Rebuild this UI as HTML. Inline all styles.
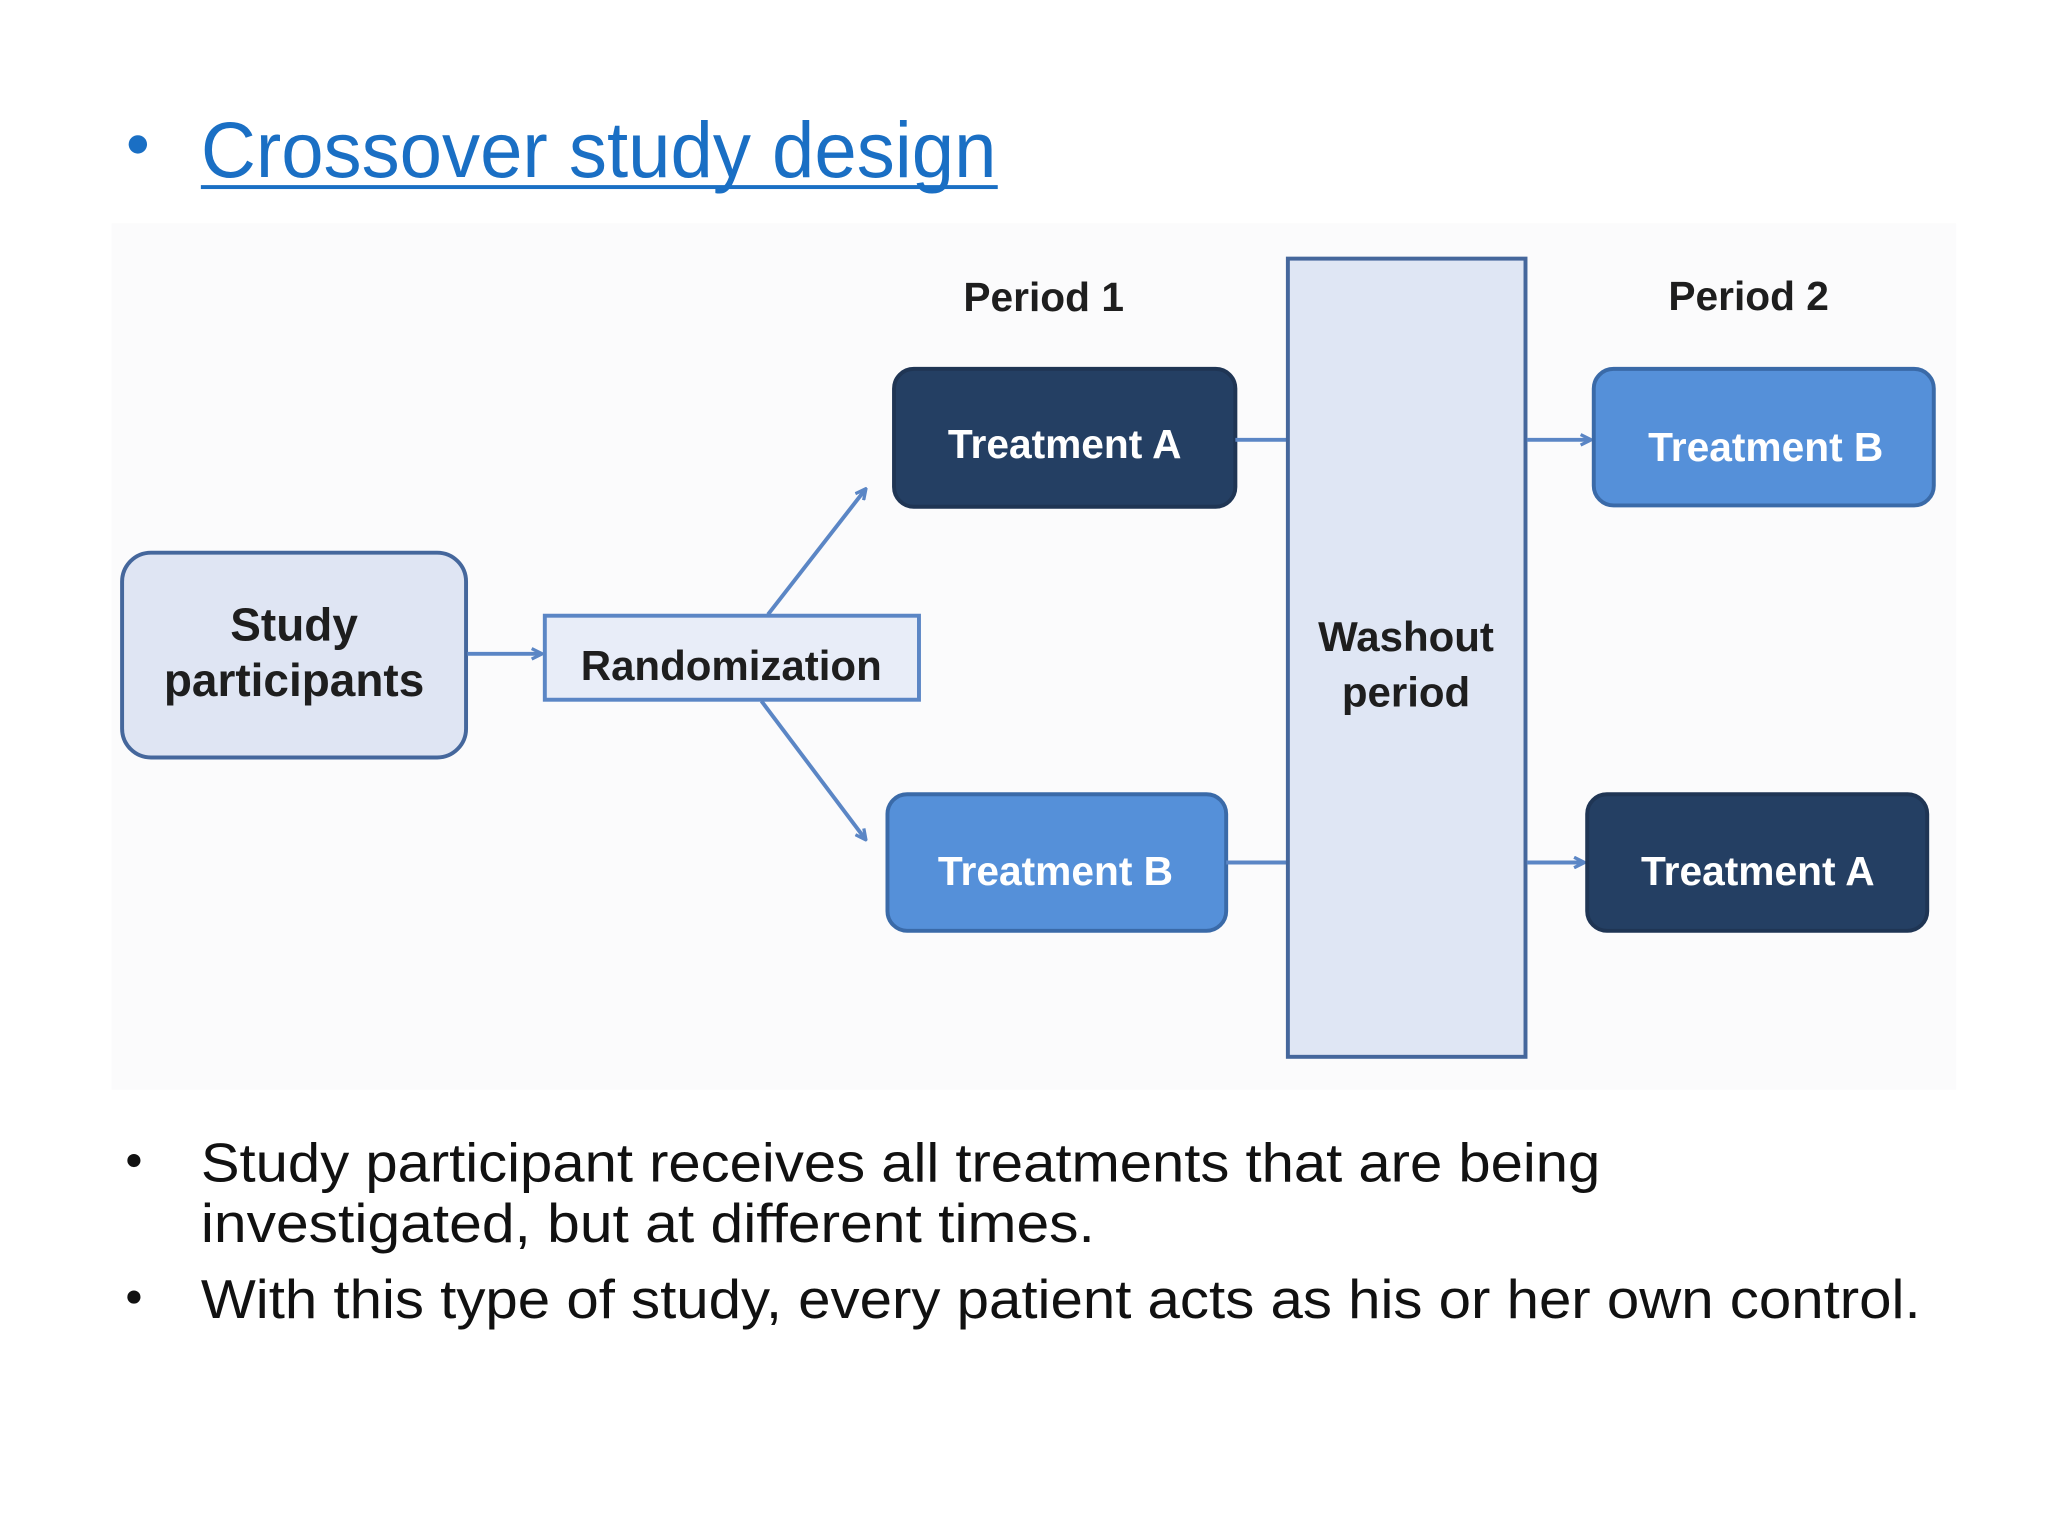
<!DOCTYPE html>
<html><head><meta charset="utf-8"><style>
html,body{margin:0;padding:0;background:#fff;}
svg{display:block;}
</style></head><body>
<svg width="2048" height="1536" viewBox="0 0 1560 1170" xmlns="http://www.w3.org/2000/svg">
<defs>
<marker id="ah" markerWidth="10" markerHeight="10" refX="8" refY="5" orient="auto" markerUnits="userSpaceOnUse">
<path d="M1,1 L9,5 L1,9" fill="none" stroke="#5b86c5" stroke-width="2.5"/>
</marker>
</defs>
<rect x="0" y="0" width="1560" height="1170" fill="#ffffff"/>
<rect x="85" y="170" width="1405" height="660" fill="#fbfbfc"/>
<circle cx="105" cy="110" r="7" fill="#1a6fc4"/>
<text x="153" y="135" font-family="Liberation Sans, sans-serif" font-size="60" fill="#1a6fc4" textLength="606" lengthAdjust="spacingAndGlyphs">Crossover study design</text>
<rect x="153" y="141" width="607" height="3" fill="#1a6fc4"/>

<g font-family="Liberation Sans, sans-serif" font-weight="bold" text-anchor="middle">
<text x="795" y="237" font-size="31" fill="#1e1e1e">Period 1</text>
<text x="1332" y="236" font-size="31" fill="#1e1e1e">Period 2</text>

<rect x="93" y="421" width="262" height="156" rx="22" fill="#dfe5f3" stroke="#45679c" stroke-width="3"/>
<text x="224" y="488" font-size="35" fill="#1e1e1e">Study</text>
<text x="224" y="530" font-size="35" fill="#1e1e1e">participants</text>

<line x1="356" y1="498" x2="412" y2="498" stroke="#5b86c5" stroke-width="3" marker-end="url(#ah)"/>
<rect x="415" y="469" width="285" height="64" fill="#e8edf8" stroke="#5b86c5" stroke-width="3"/>
<text x="557" y="518" font-size="32" fill="#1e1e1e">Randomization</text>
<line x1="585" y1="468" x2="659" y2="373" stroke="#5b86c5" stroke-width="3" marker-end="url(#ah)"/>
<line x1="580" y1="534" x2="659" y2="639" stroke="#5b86c5" stroke-width="3" marker-end="url(#ah)"/>

<rect x="681" y="281" width="260" height="105" rx="15" fill="#243f63" stroke="#1f3554" stroke-width="3"/>
<text x="811" y="349" font-size="31" fill="#fff">Treatment A</text>
<rect x="676" y="605" width="258" height="104" rx="15" fill="#5590d9" stroke="#3a6aa8" stroke-width="3"/>
<text x="804" y="674" font-size="31" fill="#fff">Treatment B</text>

<line x1="941" y1="335" x2="981" y2="335" stroke="#5b86c5" stroke-width="3"/>
<line x1="934" y1="657" x2="981" y2="657" stroke="#5b86c5" stroke-width="3"/>

<rect x="981" y="197" width="181" height="608" fill="#dfe6f4" stroke="#45679c" stroke-width="3"/>
<text x="1071" y="496" font-size="32" fill="#1e1e1e">Washout</text>
<text x="1071" y="538" font-size="32" fill="#1e1e1e">period</text>

<line x1="1163" y1="335" x2="1211" y2="335" stroke="#5b86c5" stroke-width="3" marker-end="url(#ah)"/>
<line x1="1163" y1="657" x2="1206" y2="657" stroke="#5b86c5" stroke-width="3" marker-end="url(#ah)"/>

<rect x="1214" y="281" width="259" height="104" rx="15" fill="#5590d9" stroke="#3a6aa8" stroke-width="3"/>
<text x="1345" y="351" font-size="31" fill="#fff">Treatment B</text>
<rect x="1209" y="605" width="259" height="104" rx="15" fill="#243f63" stroke="#1f3554" stroke-width="3"/>
<text x="1339" y="674" font-size="31" fill="#fff">Treatment A</text>
</g>

<g font-family="Liberation Sans, sans-serif" font-size="42" fill="#111">
<circle cx="102" cy="884" r="5" fill="#111"/>
<text x="153" y="900" textLength="1066" lengthAdjust="spacingAndGlyphs">Study participant receives all treatments that are being</text>
<text x="153" y="946" textLength="681" lengthAdjust="spacingAndGlyphs">investigated, but at different times.</text>
<circle cx="102" cy="988" r="5" fill="#111"/>
<text x="153" y="1004" textLength="1310" lengthAdjust="spacingAndGlyphs">With this type of study, every patient acts as his or her own control.</text>
</g>
</svg>
</body></html>
